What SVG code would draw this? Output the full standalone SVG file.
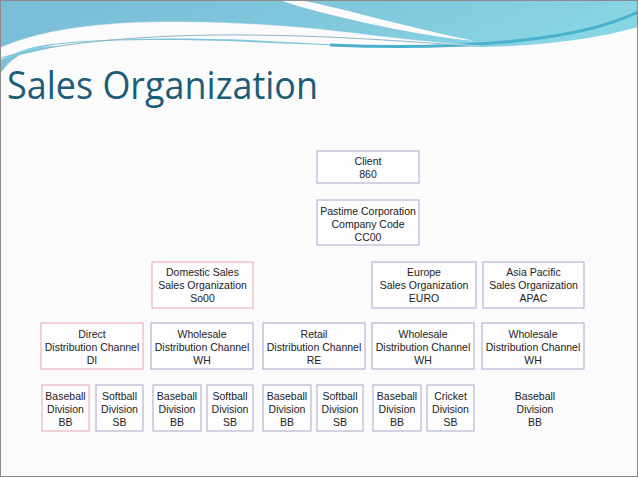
<svg xmlns="http://www.w3.org/2000/svg" width="638" height="478" viewBox="0 0 638 478">
<defs>
<linearGradient id="gBlue" x1="0" y1="0" x2="1" y2="0.3">
<stop offset="0" stop-color="#78bcd6"/>
<stop offset="0.5" stop-color="#80c6dc"/>
<stop offset="1" stop-color="#88d6e4"/>
</linearGradient>
<linearGradient id="gCorner" x1="0" y1="0" x2="0" y2="1">
<stop offset="0" stop-color="#80d0e2"/>
<stop offset="1" stop-color="#7ad8e8"/>
</linearGradient>
</defs>
<style>
.box{fill:#fdfdfd;stroke:#a8a8cc;stroke-width:1}
.pink{stroke:#e8a8b0}
.t{font-family:"Liberation Sans",Arial,sans-serif;font-size:10.5px;fill:#222;text-anchor:middle}
.title{font-family:"Open Sans","Noto Sans",sans-serif;font-size:38px;fill:#1c5c78}
</style>
<rect x="0" y="0" width="638" height="478" fill="#fbfbfb"/>
<g id="header">
<path d="M0,0 H638 V27 C600,38 540,47 470,47 C400,47 330,46 250,42 C150,38 60,40 30,50 C15,56 5,65 0,75 Z" fill="url(#gBlue)"/>
<path d="M0,60 C20,55 40,50 60,46 L0,48 Z" fill="url(#gCorner)"/>
<path d="M0,48 C40,30 100,22 170,22 C250,22 310,28 360,34 C410,40 450,44 480,46 C400,48 320,44 250,40 C150,36 60,40 30,48 C15,53 5,57 0,60 Z" fill="#fbfbfb"/>
<path d="M280,0 L300,0 C350,10 410,28 475,41 C420,36 360,22 320,12 C305,8 290,4 280,0 Z" fill="#fbfbfb"/>
<path d="M330,45 C420,49 500,45 560,35 C600,28 620,20 638,12" fill="none" stroke="#4ab0cc" stroke-width="3"/>
<path d="M0,58 C60,42 150,34 250,35 C350,36 420,43 480,46" fill="none" stroke="#8fb4c4" stroke-width="1"/>
<path d="M0,48 C40,30 100,22 170,22 C250,22 310,28 360,34 C410,40 450,44 480,46" fill="none" stroke="#fbfbfb" stroke-width="0.5"/>
</g>
<text class="title" x="7" y="99" textLength="311" lengthAdjust="spacingAndGlyphs">Sales Organization</text>
<g id="connectors"></g>
<g id="client"><rect class="box" x="317" y="151" width="102" height="32"/><text class="t" x="368" y="165">Client</text><text class="t" x="368" y="178">860</text></g>
<g id="company"><rect class="box" x="317" y="200" width="102" height="45"/><text class="t" x="368" y="215">Pastime Corporation</text><text class="t" x="368" y="228">Company Code</text><text class="t" x="368" y="241">CC00</text></g>
<g id="so-domestic"><rect class="box pink" x="152" y="262" width="101" height="46"/><text class="t" x="202.5" y="276">Domestic Sales</text><text class="t" x="202.5" y="289">Sales Organization</text><text class="t" x="202.5" y="302">So00</text></g>
<g id="so-europe"><rect class="box" x="372" y="262" width="104" height="46"/><text class="t" x="424" y="276">Europe</text><text class="t" x="424" y="289">Sales Organization</text><text class="t" x="424" y="302">EURO</text></g>
<g id="so-apac"><rect class="box" x="483" y="262" width="101" height="46"/><text class="t" x="533.5" y="276">Asia Pacific</text><text class="t" x="533.5" y="289">Sales Organization</text><text class="t" x="533.5" y="302">APAC</text></g>
<g id="dc-direct"><rect class="box pink" x="41" y="323" width="102" height="46"/><text class="t" x="92" y="338">Direct</text><text class="t" x="92" y="351">Distribution Channel</text><text class="t" x="92" y="364">DI</text></g>
<g id="dc-wh1"><rect class="box" x="151" y="323" width="102" height="46"/><text class="t" x="202" y="338">Wholesale</text><text class="t" x="202" y="351">Distribution Channel</text><text class="t" x="202" y="364">WH</text></g>
<g id="dc-retail"><rect class="box" x="263" y="323" width="102" height="46"/><text class="t" x="314" y="338">Retail</text><text class="t" x="314" y="351">Distribution Channel</text><text class="t" x="314" y="364">RE</text></g>
<g id="dc-wh2"><rect class="box" x="372" y="323" width="102" height="46"/><text class="t" x="423" y="338">Wholesale</text><text class="t" x="423" y="351">Distribution Channel</text><text class="t" x="423" y="364">WH</text></g>
<g id="dc-wh3"><rect class="box" x="482" y="323" width="102" height="46"/><text class="t" x="533" y="338">Wholesale</text><text class="t" x="533" y="351">Distribution Channel</text><text class="t" x="533" y="364">WH</text></g>
<g id="div-bb1"><rect class="box pink" x="42" y="385" width="47" height="46"/><text class="t" x="65.5" y="400">Baseball</text><text class="t" x="65.5" y="413">Division</text><text class="t" x="65.5" y="426">BB</text></g>
<g id="div-sb1"><rect class="box" x="96" y="385" width="47" height="46"/><text class="t" x="119.5" y="400">Softball</text><text class="t" x="119.5" y="413">Division</text><text class="t" x="119.5" y="426">SB</text></g>
<g id="div-bb2"><rect class="box" x="153" y="385" width="48" height="46"/><text class="t" x="177" y="400">Baseball</text><text class="t" x="177" y="413">Division</text><text class="t" x="177" y="426">BB</text></g>
<g id="div-sb2"><rect class="box" x="207" y="385" width="46" height="46"/><text class="t" x="230" y="400">Softball</text><text class="t" x="230" y="413">Division</text><text class="t" x="230" y="426">SB</text></g>
<g id="div-bb3"><rect class="box" x="263" y="385" width="48" height="46"/><text class="t" x="287" y="400">Baseball</text><text class="t" x="287" y="413">Division</text><text class="t" x="287" y="426">BB</text></g>
<g id="div-sb3"><rect class="box" x="317" y="385" width="46" height="46"/><text class="t" x="340" y="400">Softball</text><text class="t" x="340" y="413">Division</text><text class="t" x="340" y="426">SB</text></g>
<g id="div-bb4"><rect class="box" x="373" y="385" width="48" height="46"/><text class="t" x="397" y="400">Baseball</text><text class="t" x="397" y="413">Division</text><text class="t" x="397" y="426">BB</text></g>
<g id="div-cr"><rect class="box" x="427" y="385" width="47" height="46"/><text class="t" x="450.5" y="400">Cricket</text><text class="t" x="450.5" y="413">Division</text><text class="t" x="450.5" y="426">SB</text></g>
<g id="div-bb5"><text class="t" x="535" y="400">Baseball</text><text class="t" x="535" y="413">Division</text><text class="t" x="535" y="426">BB</text></g>
<rect x="0.5" y="0.5" width="637" height="476" fill="none" stroke="#8a8a8a" stroke-width="1"/>
</svg>
